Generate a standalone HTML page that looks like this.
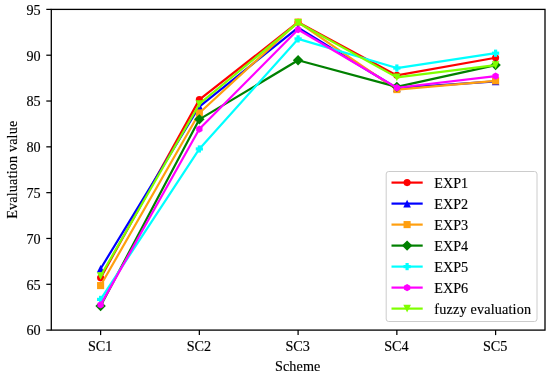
<!DOCTYPE html><html><head><meta charset="utf-8"><title>Scheme evaluation</title><style>html,body{margin:0;padding:0;background:#fff}svg{display:block}text{font-family:"Liberation Serif","Times New Roman",serif;fill:#000;stroke:#000;stroke-width:0.15px}</style></head><body>
<svg width="550" height="376" viewBox="0 0 550 376">
<rect width="550" height="376" fill="#fff"/>
<polyline points="100.60,277.87 199.35,99.65 298.10,22.23 396.85,75.37 495.60,57.78" fill="none" stroke="#ff0000" stroke-width="2.2" stroke-linejoin="round" stroke-linecap="butt"/>
<circle cx="100.60" cy="277.87" r="3.55" fill="#ff0000"/>
<circle cx="199.35" cy="99.65" r="3.55" fill="#ff0000"/>
<circle cx="298.10" cy="22.23" r="3.55" fill="#ff0000"/>
<circle cx="396.85" cy="75.37" r="3.55" fill="#ff0000"/>
<circle cx="495.60" cy="57.78" r="3.55" fill="#ff0000"/>
<polyline points="100.60,268.71 199.35,106.53 298.10,27.73 396.85,88.20 495.60,81.33" fill="none" stroke="#0000ff" stroke-width="2.2" stroke-linejoin="round" stroke-linecap="butt"/>
<polygon points="100.60,264.91 104.40,272.51 96.80,272.51" fill="#0000ff"/>
<polygon points="199.35,102.73 203.15,110.33 195.55,110.33" fill="#0000ff"/>
<polygon points="298.10,23.93 301.90,31.53 294.30,31.53" fill="#0000ff"/>
<polygon points="396.85,84.40 400.65,92.00 393.05,92.00" fill="#0000ff"/>
<polygon points="495.60,77.53 499.40,85.13 491.80,85.13" fill="#0000ff"/>
<polyline points="100.60,285.57 199.35,112.94 298.10,22.04 396.85,89.57 495.60,80.87" fill="none" stroke="#ff9f0f" stroke-width="2.2" stroke-linejoin="round" stroke-linecap="butt"/>
<rect x="97.05" y="282.02" width="7.10" height="7.10" fill="#ff9f0f"/>
<rect x="195.80" y="109.39" width="7.10" height="7.10" fill="#ff9f0f"/>
<rect x="294.55" y="18.49" width="7.10" height="7.10" fill="#ff9f0f"/>
<rect x="393.30" y="86.02" width="7.10" height="7.10" fill="#ff9f0f"/>
<rect x="492.05" y="77.32" width="7.10" height="7.10" fill="#ff9f0f"/>
<polyline points="100.60,306.00 199.35,119.35 298.10,60.25 396.85,86.83 495.60,65.11" fill="none" stroke="#008000" stroke-width="2.2" stroke-linejoin="round" stroke-linecap="butt"/>
<polygon points="100.60,300.80 105.80,306.00 100.60,311.20 95.40,306.00" fill="#008000"/>
<polygon points="199.35,114.15 204.55,119.35 199.35,124.55 194.15,119.35" fill="#008000"/>
<polygon points="298.10,55.05 303.30,60.25 298.10,65.45 292.90,60.25" fill="#008000"/>
<polygon points="396.85,81.63 402.05,86.83 396.85,92.03 391.65,86.83" fill="#008000"/>
<polygon points="495.60,59.91 500.80,65.11 495.60,70.31 490.40,65.11" fill="#008000"/>
<polyline points="100.60,299.40 199.35,148.95 298.10,38.90 396.85,68.04 495.60,53.20" fill="none" stroke="#00ffff" stroke-width="2.2" stroke-linejoin="round" stroke-linecap="butt"/>
<rect x="97.00" y="297.80" width="7.20" height="3.20" fill="#00ffff"/><rect x="99.00" y="295.80" width="3.20" height="7.20" fill="#00ffff"/>
<rect x="195.75" y="147.35" width="7.20" height="3.20" fill="#00ffff"/><rect x="197.75" y="145.35" width="3.20" height="7.20" fill="#00ffff"/>
<rect x="294.50" y="37.30" width="7.20" height="3.20" fill="#00ffff"/><rect x="296.50" y="35.30" width="3.20" height="7.20" fill="#00ffff"/>
<rect x="393.25" y="66.44" width="7.20" height="3.20" fill="#00ffff"/><rect x="395.25" y="64.44" width="3.20" height="7.20" fill="#00ffff"/>
<rect x="492.00" y="51.60" width="7.20" height="3.20" fill="#00ffff"/><rect x="494.00" y="49.60" width="3.20" height="7.20" fill="#00ffff"/>
<polyline points="100.60,304.90 199.35,129.07 298.10,29.56 396.85,87.74 495.60,76.11" fill="none" stroke="#ff00ff" stroke-width="2.2" stroke-linejoin="round" stroke-linecap="butt"/>
<polygon points="100.60,301.25 103.76,303.08 103.76,306.73 100.60,308.55 97.44,306.73 97.44,303.08" fill="#ff00ff"/>
<polygon points="199.35,125.42 202.51,127.24 202.51,130.89 199.35,132.72 196.19,130.89 196.19,127.24" fill="#ff00ff"/>
<polygon points="298.10,25.91 301.26,27.73 301.26,31.38 298.10,33.21 294.94,31.38 294.94,27.73" fill="#ff00ff"/>
<polygon points="396.85,84.09 400.01,85.92 400.01,89.57 396.85,91.39 393.69,89.57 393.69,85.92" fill="#ff00ff"/>
<polygon points="495.60,72.46 498.76,74.28 498.76,77.93 495.60,79.76 492.44,77.93 492.44,74.28" fill="#ff00ff"/>
<polyline points="100.60,276.04 199.35,103.96 298.10,22.69 396.85,77.39 495.60,65.11" fill="none" stroke="#7fff00" stroke-width="2.2" stroke-linejoin="round" stroke-linecap="butt"/>
<polygon points="100.60,279.84 104.40,272.24 96.80,272.24" fill="#7fff00"/>
<polygon points="199.35,107.76 203.15,100.16 195.55,100.16" fill="#7fff00"/>
<polygon points="298.10,26.49 301.90,18.89 294.30,18.89" fill="#7fff00"/>
<polygon points="396.85,81.19 400.65,73.59 393.05,73.59" fill="#7fff00"/>
<polygon points="495.60,68.91 499.40,61.31 491.80,61.31" fill="#7fff00"/>
<rect x="51.3" y="9.4" width="493.7" height="320.70000000000005" fill="none" stroke="#000" stroke-width="1.3"/>
<line x1="46.3" y1="330.10" x2="51.3" y2="330.10" stroke="#000" stroke-width="1.25"/>
<text x="40.599999999999994" y="335.40" font-size="14.2" text-anchor="end">60</text>
<line x1="46.3" y1="284.29" x2="51.3" y2="284.29" stroke="#000" stroke-width="1.25"/>
<text x="40.599999999999994" y="289.59" font-size="14.2" text-anchor="end">65</text>
<line x1="46.3" y1="238.47" x2="51.3" y2="238.47" stroke="#000" stroke-width="1.25"/>
<text x="40.599999999999994" y="243.77" font-size="14.2" text-anchor="end">70</text>
<line x1="46.3" y1="192.66" x2="51.3" y2="192.66" stroke="#000" stroke-width="1.25"/>
<text x="40.599999999999994" y="197.96" font-size="14.2" text-anchor="end">75</text>
<line x1="46.3" y1="146.84" x2="51.3" y2="146.84" stroke="#000" stroke-width="1.25"/>
<text x="40.599999999999994" y="152.14" font-size="14.2" text-anchor="end">80</text>
<line x1="46.3" y1="101.03" x2="51.3" y2="101.03" stroke="#000" stroke-width="1.25"/>
<text x="40.599999999999994" y="106.33" font-size="14.2" text-anchor="end">85</text>
<line x1="46.3" y1="55.21" x2="51.3" y2="55.21" stroke="#000" stroke-width="1.25"/>
<text x="40.599999999999994" y="60.51" font-size="14.2" text-anchor="end">90</text>
<line x1="46.3" y1="9.40" x2="51.3" y2="9.40" stroke="#000" stroke-width="1.25"/>
<text x="40.599999999999994" y="14.70" font-size="14.2" text-anchor="end">95</text>
<line x1="100.60" y1="330.1" x2="100.60" y2="335.1" stroke="#000" stroke-width="1.25"/>
<text x="100.20" y="350.8" font-size="14.2" text-anchor="middle">SC1</text>
<line x1="199.35" y1="330.1" x2="199.35" y2="335.1" stroke="#000" stroke-width="1.25"/>
<text x="198.95" y="350.8" font-size="14.2" text-anchor="middle">SC2</text>
<line x1="298.10" y1="330.1" x2="298.10" y2="335.1" stroke="#000" stroke-width="1.25"/>
<text x="297.70" y="350.8" font-size="14.2" text-anchor="middle">SC3</text>
<line x1="396.85" y1="330.1" x2="396.85" y2="335.1" stroke="#000" stroke-width="1.25"/>
<text x="396.45" y="350.8" font-size="14.2" text-anchor="middle">SC4</text>
<line x1="495.60" y1="330.1" x2="495.60" y2="335.1" stroke="#000" stroke-width="1.25"/>
<text x="495.20" y="350.8" font-size="14.2" text-anchor="middle">SC5</text>
<text x="297.65" y="370.5" font-size="14.2" textLength="45.5" text-anchor="middle">Scheme</text>
<text transform="translate(16.5,169.75) rotate(-90)" font-size="14.2" textLength="98" text-anchor="middle">Evaluation value</text>
<rect x="386.2" y="171.5" width="150.8" height="150" rx="2.5" ry="2.5" fill="#fff" fill-opacity="0.8" stroke="#ccc" stroke-width="1"/>
<line x1="391.5" y1="182.6" x2="422.7" y2="182.6" stroke="#ff0000" stroke-width="2.2"/>
<circle cx="407.10" cy="182.60" r="3.55" fill="#ff0000"/>
<text x="434.3" y="187.70" font-size="14.2">EXP1</text>
<line x1="391.5" y1="203.6" x2="422.7" y2="203.6" stroke="#0000ff" stroke-width="2.2"/>
<polygon points="407.10,199.80 410.90,207.40 403.30,207.40" fill="#0000ff"/>
<text x="434.3" y="208.70" font-size="14.2">EXP2</text>
<line x1="391.5" y1="224.6" x2="422.7" y2="224.6" stroke="#ff9f0f" stroke-width="2.2"/>
<rect x="403.55" y="221.05" width="7.10" height="7.10" fill="#ff9f0f"/>
<text x="434.3" y="229.70" font-size="14.2">EXP3</text>
<line x1="391.5" y1="245.6" x2="422.7" y2="245.6" stroke="#008000" stroke-width="2.2"/>
<polygon points="407.10,240.40 412.30,245.60 407.10,250.80 401.90,245.60" fill="#008000"/>
<text x="434.3" y="250.70" font-size="14.2">EXP4</text>
<line x1="391.5" y1="266.6" x2="422.7" y2="266.6" stroke="#00ffff" stroke-width="2.2"/>
<rect x="403.50" y="265.00" width="7.20" height="3.20" fill="#00ffff"/><rect x="405.50" y="263.00" width="3.20" height="7.20" fill="#00ffff"/>
<text x="434.3" y="271.70" font-size="14.2">EXP5</text>
<line x1="391.5" y1="287.6" x2="422.7" y2="287.6" stroke="#ff00ff" stroke-width="2.2"/>
<polygon points="407.10,283.95 410.26,285.78 410.26,289.43 407.10,291.25 403.94,289.43 403.94,285.78" fill="#ff00ff"/>
<text x="434.3" y="292.70" font-size="14.2">EXP6</text>
<line x1="391.5" y1="308.6" x2="422.7" y2="308.6" stroke="#7fff00" stroke-width="2.2"/>
<polygon points="407.10,312.40 410.90,304.80 403.30,304.80" fill="#7fff00"/>
<text x="434.3" y="313.70" font-size="14.2" textLength="96.8">fuzzy evaluation</text>
</svg></body></html>
